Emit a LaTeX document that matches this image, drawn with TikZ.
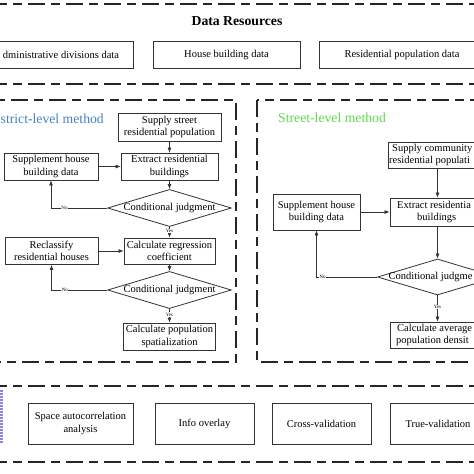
\documentclass[tikz,border=0pt]{standalone}
\usepackage{fontspec}
\setmainfont{Liberation Serif}
\usetikzlibrary{shapes.geometric,arrows.meta}
\definecolor{titleblue}{RGB}{70,130,200}
\definecolor{titlegreen}{RGB}{100,215,80}
\definecolor{lavender}{RGB}{150,130,220}
\begin{document}
\begin{tikzpicture}[x=1pt,y=-1pt,
  box/.style={draw=black!80, line width=0.8pt, align=center, inner sep=1pt,
    font=\fontsize{10.5}{12.5}\selectfont},
  dia/.style={diamond, draw=black!80, line width=0.8pt, aspect=3.33, inner sep=0pt,
    font=\fontsize{10.5}{12.5}\selectfont},
  txt/.style={inner sep=0pt, font=\fontsize{10.5}{12.5}\selectfont},
  txtw/.style={inner sep=0pt, anchor=west, align=left, font=\fontsize{10.5}{12.5}\selectfont},
  arr/.style={draw=black!80, line width=0.7pt, -{Latex[length=5pt,width=4pt]}},
  lab/.style={font=\fontsize{5}{6}\selectfont, fill=white, inner sep=0.5pt},
  dashline/.style={line width=1.5pt, black!85, dash pattern=on 17pt off 6pt on 9pt off 6pt},
  ttl/.style={font=\fontsize{13.7}{16}\selectfont, inner sep=0pt, anchor=west}]
\useasboundingbox (0,0) rectangle (474,474);
\fill[white] (0,0) rectangle (474,474);
\clip (0,0) rectangle (474,474);

% ---- Data resources
\draw[dashline] (-10,4) -- (484,4);
\node[font=\fontsize{13.7}{16}\selectfont\bfseries] (title) at (237,21) {Data Resources};
\node[box, minimum width=145, minimum height=27] (admin) at (60.5,54.5) {};
\node[txt] (admint) at (61,54.5) {dministrative divisions data};
\node[box, minimum width=147, minimum height=27] (house) at (226.5,54.5) {House building data};
\node[box, minimum width=162, minimum height=27] (resid) at (400,54.5) {};
\node[txt] (residt) at (402,54.5) {Residential population data};
\draw[dashline] (-10,84) -- (484,84);

% ---- District-level panel
\draw[dashline] (-20,100) rectangle (236,362);
\node[ttl, text=titleblue] (dtitle) at (0.5,119) {strict-level method};
\node[box, minimum width=103, minimum height=28] (supS) at (169.5,127) {Supply street\\residential population};
\node[box, minimum width=94, minimum height=27] (supL) at (51,166.5) {Supplement house\\building data};
\node[box, minimum width=97, minimum height=27] (extL) at (169.5,166.5) {Extract residential\\buildings};
\node[dia] (d1) at (169.5,208) {Conditional judgment};
\node[box, minimum width=93, minimum height=27] (recl) at (51.5,251) {Reclassify\\residential houses};
\node[box, minimum width=91, minimum height=26] (calcR) at (169.5,251) {Calculate regression\\coefficient};
\node[dia] (d2) at (169.5,290) {Conditional judgment};
\node[box, minimum width=92, minimum height=27] (calcP) at (169.5,336.5) {Calculate population\\spatialization};

\draw[arr] (supS) -- (extL);
\draw[arr] (supL) -- (extL);
\draw[arr] (extL) -- (d1);
\draw[arr] (d1.west) -| node[lab, pos=0.38] (no1) {No} (supL.south);
\draw[arr] (d1.south) -- node[lab, pos=0.35] (yes1) {Yes} (calcR.north);
\draw[arr] (recl) -- (calcR);
\draw[arr] (calcR) -- (d2);
\draw[arr] (d2.west) -| node[lab, pos=0.38] (no2) {No} (recl.south);
\draw[arr] (d2.south) -- node[lab, pos=0.4] (yes2) {Yes} (calcP.north);

% ---- Street-level panel
\draw[dashline] (257,100) rectangle (490,362);
\node[ttl, text=titlegreen] (stitle) at (278,118) {Street-level method};
\node[box, minimum width=99, minimum height=26] (supC) at (437.5,155) {};
\node[txtw] (supCt) at (389,155) {\hspace*{3pt}Supply community\\residential populati};
\node[box, minimum width=87, minimum height=36] (supR) at (316.5,212) {Supplement house\\building data};
\node[box, minimum width=95, minimum height=28] (extR) at (437.5,212) {};
\node[txtw] (extRt) at (390,212) {\hspace*{7pt}Extract residentia\\\hspace*{27pt}buildings};
\node[diamond, draw=black!80, line width=0.8pt, inner sep=0pt, minimum width=120, minimum height=36] (d3) at (437.5,277) {};
\node[txtw] (d3t) at (388.5,277) {Conditional judgme};
\node[box, minimum width=95, minimum height=26] (calcA) at (437.5,335) {};
\node[txtw] (calcAt) at (390,335) {\hspace*{7pt}Calculate average\\\hspace*{6pt}population densit};

\draw[arr] (supC) -- (extR);
\draw[arr] (supR) -- (extR);
\draw[arr] (extR) -- (d3);
\draw[arr] (d3.west) -| node[lab, pos=0.45] (no3) {No} (supR.south);
\draw[arr] (d3.south) -- node[lab, pos=0.45] (yes3) {Yes} (calcA.north);

% ---- Validation
\draw[dashline] (-10,386) -- (484,386);
\draw[dashline] (-10,462) -- (484,462);
\draw[lavender, line width=3pt, dash pattern=on 1.5pt off 1.5pt] (1.5,390) -- (1.5,443);
\node[box, minimum width=105, minimum height=41] (b1) at (80.5,423.5) {Space autocorrelation\\analysis};
\node[box, minimum width=99, minimum height=41] (b2) at (204.5,423.5) {Info overlay};
\node[box, minimum width=99, minimum height=41] (b3) at (321.5,423.5) {Cross-validation};
\node[box, minimum width=99, minimum height=41] (b4) at (439.5,423.5) {};
\node[txt] (b4t) at (438,423.5) {True-validation};
\end{tikzpicture}
\end{document}
